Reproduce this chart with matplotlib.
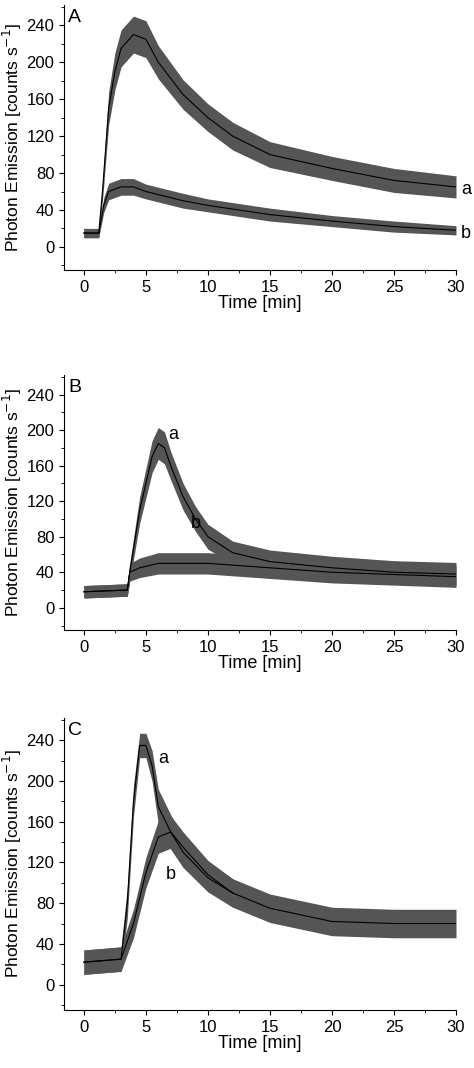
import numpy as np
import matplotlib
matplotlib.use("Agg")
from matplotlib import pyplot as plt
from matplotlib.ticker import MultipleLocator

plt.rcParams['font.family'] = ['Liberation Sans', 'DejaVu Sans']

# panel A
tA_a = [0, 1.2, 1.5, 2, 2.5, 3, 4, 5, 6, 8, 10, 12, 15, 20, 25, 30]
yA_a = [15, 15, 60, 150, 190, 215, 230, 225, 200, 165, 140, 120, 100, 85, 72, 65]
wA_a = [5, 5, 10, 18, 20, 20, 20, 20, 18, 16, 15, 15, 14, 13, 13, 12]
tA_b = [0, 1.2, 1.6, 2, 3, 4, 5, 8, 10, 15, 20, 25, 30]
yA_b = [15, 15, 45, 60, 65, 65, 60, 50, 45, 35, 28, 22, 18]
wA_b = [5, 5, 8, 9, 9, 9, 8, 8, 7, 7, 6, 6, 5]
# panel B
tB_a = [0, 3.5, 3.7, 4.5, 5.5, 6, 6.5, 7, 8, 9, 10, 12, 15, 20, 25, 30]
yB_a = [18, 20, 40, 110, 170, 185, 180, 160, 125, 100, 80, 62, 52, 45, 40, 38]
wB_a = [7, 7, 10, 15, 18, 18, 18, 16, 15, 14, 14, 13, 13, 13, 13, 13]
tB_b = [0, 3.5, 3.7, 4.5, 6, 10, 15, 20, 30]
yB_b = [18, 20, 40, 45, 50, 50, 45, 40, 35]
wB_b = [7, 7, 10, 11, 12, 12, 12, 12, 12]
# panel C
tC_a = [0, 3, 3.5, 4, 4.5, 5, 5.5, 6, 7, 8, 10, 12, 15, 20, 25, 30]
yC_a = [22, 25, 80, 180, 235, 235, 215, 175, 150, 130, 105, 90, 75, 62, 60, 60]
wC_a = [12, 12, 15, 15, 12, 12, 15, 17, 17, 15, 14, 14, 14, 14, 14, 14]
tC_b = [0, 3, 4, 5, 6, 7, 8, 10, 12]
yC_b = [22, 25, 60, 110, 145, 150, 135, 108, 90]
wC_b = [12, 12, 14, 15, 16, 16, 15, 14, 14]

panels = [
    ("A", [(tA_a, yA_a, wA_a), (tA_b, yA_b, wA_b)], [(30.4, 62, "a"), (30.4, 15, "b")]),
    ("B", [(tB_a, yB_a, wB_a), (tB_b, yB_b, wB_b)], [(6.8, 195, "a"), (8.6, 95, "b")]),
    ("C", [(tC_a, yC_a, wC_a), (tC_b, yC_b, wC_b)], [(6.0, 222, "a"), (6.6, 108, "b")]),
]

fig = plt.figure(figsize=(4.74, 10.68), dpi=100)
boxes = [(64, 5, 270), (64, 375, 630), (64, 718, 1010)]
for (name, series, labels), (l, top, bot) in zip(panels, boxes):
    ax = fig.add_axes([l / 474, 1 - bot / 1068, (456 - l) / 474, (bot - top) / 1068])
    for t, y, w in series:
        y = np.array(y); w = np.array(w)
        ax.fill_between(t, y - w, y + w, color='#555555', lw=0)
        ax.plot(t, y, color='black', lw=0.8)
    for x, y, s in labels:
        ax.text(x, y, s, fontsize=13, va='center', clip_on=False)
    ax.text(0.01, 0.985, name, transform=ax.transAxes, fontsize=14, va='top')
    ax.spines['top'].set_visible(False)
    ax.spines['right'].set_visible(False)
    ax.set_xlim(-1.6, 30)
    ax.set_ylim(-25, 262)
    ax.xaxis.set_major_locator(MultipleLocator(5))
    ax.xaxis.set_minor_locator(MultipleLocator(2.5))
    ax.yaxis.set_major_locator(MultipleLocator(40))
    ax.yaxis.set_minor_locator(MultipleLocator(20))
    ax.set_yticks(range(0, 241, 40))
    ax.tick_params(labelsize=12, direction='out')
    ax.set_xlabel("Time [min]", fontsize=13, labelpad=0)
    ax.set_ylabel("Photon Emission [counts s$^{-1}$]", fontsize=12.5, labelpad=2)

fig.savefig("out.png", dpi=100)
